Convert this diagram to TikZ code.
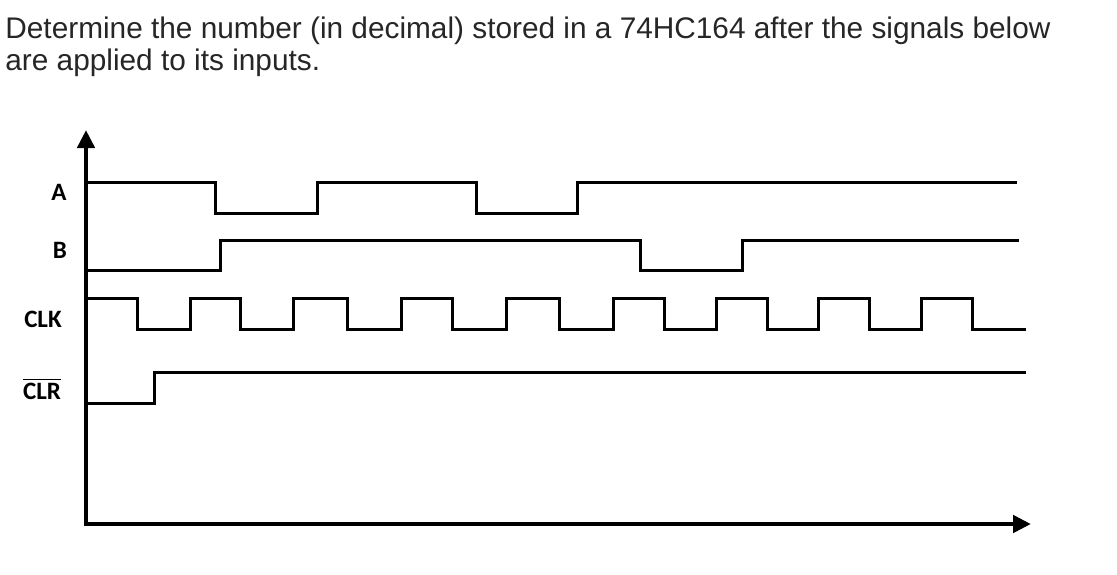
\documentclass[tikz,border=0pt]{standalone}
\usepackage{fontspec}
\setmainfont{Liberation Sans}
\newfontfamily\lblfont{Carlito}
\usetikzlibrary{arrows.meta}
\usetikzlibrary{positioning}

\begin{document}
\begin{tikzpicture}[x=0.5pt,y=-0.5pt,
  axis/.style={line width=2.4pt,line join=miter,{Triangle[length=9pt,width=8.5pt]}-{Triangle[length=9pt,width=8.5pt]}},
  wave/.style={line width=1.5pt,line join=miter},
  sig/.style={anchor=base,inner sep=0pt,font=\lblfont\bfseries\fontsize{12.5}{14}\selectfont},
  txt/.style={anchor=base west,inner sep=0pt,text=black!85,font=\fontsize{14.9}{17}\selectfont}]
  \useasboundingbox (0,0) rectangle (1117,574);
  \node[txt] (q1) at (5,38) {Determine the number (in decimal) stored in a 74HC164 after the signals below};
  \node[txt] (q2) at (5,70) {are applied to its inputs.};
  \coordinate (o) at (86,524);
  \coordinate (ytip) at (86,130);
  \coordinate (xtip) at (1031,524);
  \draw[axis] (ytip) -- (o) -- (xtip);
  \node[sig] (a) at (59,200) {A};
  \node[sig] (b) at (60,258) {B};
  \node[sig] (clk) at (43,327) {CLK};
  \node[sig] (clr) at (42,399) {$\overline{\hbox{CLR}}$};
  \draw[wave] (87,182) -| (215,213) -| (317,182) -| (476,213) -| (577,182) -- (1017,182);
  \draw[wave] (87,270) -| (220,240) -| (640,270) -| (742,240) -- (1019,240);
  \draw[wave] (87,298) -| (137,329) -| (190,298) -| (240,329) -| (293,298) -| (347,329)
    -| (401,298) -| (452,329) -| (506,298) -| (559,329) -| (613,298) -| (664,329)
    -| (716,298) -| (767,329) -| (818,298) -| (869,329) -| (921,298) -| (972,329) -- (1026,329);
  \draw[wave] (87,403) -| (154,372) -- (1026,372);
\end{tikzpicture}
\end{document}
